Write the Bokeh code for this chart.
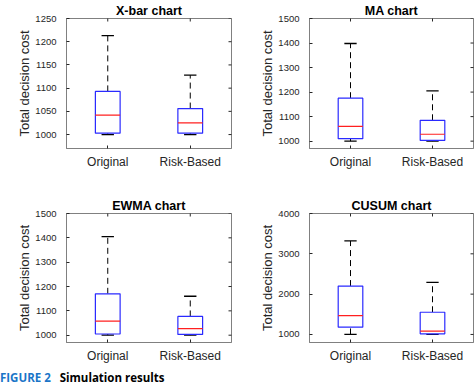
import math
from bokeh.plotting import figure
from bokeh.layouts import gridplot, column
from bokeh.models import FixedTicker, Range1d, Div
from bokeh.embed import file_html
from bokeh.resources import INLINE

# ---- data ----
categories = ["Original", "Risk-Based"]

titles = ["X-bar chart", "MA chart", "EWMA chart", "CUSUM chart"]

xbar_low = [1000, 1000]
xbar_q1 = [1003, 1003]
xbar_med = [1042, 1025]
xbar_q3 = [1093, 1056]
xbar_high = [1213, 1128]

ma_low = [1000, 1000]
ma_q1 = [1010, 1003]
ma_med = [1060, 1028]
ma_q3 = [1175, 1085]
ma_high = [1398, 1205]

ewma_low = [1000, 1000]
ewma_q1 = [1005, 1003]
ewma_med = [1058, 1027]
ewma_q3 = [1170, 1077]
ewma_high = [1405, 1160]

cusum_low = [1000, 1000]
cusum_q1 = [1180, 1015]
cusum_med = [1465, 1080]
cusum_q3 = [2200, 1550]
cusum_high = [3320, 2290]

xbar_ticks = [1000, 1050, 1100, 1150, 1200, 1250]
ma_ticks = [1000, 1100, 1200, 1300, 1400, 1500]
ewma_ticks = [1000, 1100, 1200, 1300, 1400, 1500]
cusum_ticks = [1000, 2000, 3000, 4000]

xbar_ylim = [970, 1250]
ma_ylim = [970, 1500]
ewma_ylim = [970, 1500]
cusum_ylim = [800, 4000]

y_label = "Total decision cost"
caption_a = "FIGURE 2"
caption_b = "Simulation results"

FONT = "Liberation Sans"
GREY = "#808080"
TXT = "#262626"


def make_panel(title, low, q1, med, q3, high, ticks, ylim, width, height,
               b_left, b_right, b_top, b_bottom):
    p = figure(width=width, height=height, output_backend="svg",
               toolbar_location=None, x_range=Range1d(0.5, 2.5),
               y_range=Range1d(ylim[0], ylim[1]),
               min_border_left=b_left, min_border_right=b_right,
               min_border_top=b_top, min_border_bottom=b_bottom)
    p.title.text = title
    p.title.align = "center"
    p.title.text_font = FONT
    p.title.text_font_size = "12.5px"
    p.title.text_font_style = "bold"
    p.title.text_color = "black"
    p.title.standoff = 2
    p.title.offset = 0
    p.grid.visible = False
    p.outline_line_color = GREY
    p.outline_line_width = 1
    p.background_fill_color = "white"
    p.border_fill_color = "white"

    xs = list(range(1, len(categories) + 1))
    for ax in (p.xaxis[0], p.yaxis[0]):
        ax.axis_line_color = GREY
        ax.major_tick_line_color = TXT
        ax.major_tick_in = 3
        ax.major_tick_out = 0
        ax.minor_tick_line_color = None
        ax.major_label_text_font = FONT
        ax.major_label_text_color = TXT
    p.xaxis[0].ticker = FixedTicker(ticks=xs)
    p.xaxis[0].major_label_overrides = {x: c for x, c in zip(xs, categories)}
    p.xaxis[0].major_label_text_font_size = "12px"
    p.xaxis[0].major_label_standoff = 6
    p.yaxis[0].ticker = FixedTicker(ticks=ticks)
    p.yaxis[0].major_label_text_font_size = "9.5px"
    p.yaxis[0].major_label_standoff = 10
    p.yaxis[0].axis_label = y_label
    p.yaxis[0].axis_label_text_font = FONT
    p.yaxis[0].axis_label_text_font_size = "13px"
    p.yaxis[0].axis_label_text_font_style = "normal"
    p.yaxis[0].axis_label_text_color = TXT
    p.yaxis[0].axis_label_standoff = 0

    # mirrored tick marks on the right and top edges (clipped to the frame)
    p.scatter(x=[2.5] * len(ticks), y=ticks, marker="dash", size=6,
              line_color=TXT, line_width=1)
    p.scatter(x=xs, y=[ylim[1]] * len(xs), marker="dash", size=6,
              angle=math.pi / 2, line_color=TXT, line_width=1)

    bw = 0.3
    cw = 0.15
    # whiskers (dashed)
    p.segment(x0=xs, y0=q3, x1=xs, y1=high, line_color="black",
              line_width=1, line_dash="6 4")
    p.segment(x0=xs, y0=low, x1=xs, y1=q1, line_color="black",
              line_width=1, line_dash="6 4")
    # caps
    p.segment(x0=[x - cw / 2 for x in xs], y0=high,
              x1=[x + cw / 2 for x in xs], y1=high,
              line_color="black", line_width=1.3)
    p.segment(x0=[x - cw / 2 for x in xs], y0=low,
              x1=[x + cw / 2 for x in xs], y1=low,
              line_color="black", line_width=1.3)
    # boxes
    p.quad(left=[x - bw / 2 for x in xs], right=[x + bw / 2 for x in xs],
           bottom=q1, top=q3, fill_color="white", line_color="#2a2aff",
           line_width=1.2)
    # medians
    p.segment(x0=[x - bw / 2 for x in xs], y0=med,
              x1=[x + bw / 2 for x in xs], y1=med,
              line_color="#ff2020", line_width=1.2)
    return p


p1 = make_panel(titles[0], xbar_low, xbar_q1, xbar_med, xbar_q3, xbar_high,
                xbar_ticks, xbar_ylim, 237, 189, 66, 6, 16, 41)
p2 = make_panel(titles[1], ma_low, ma_q1, ma_med, ma_q3, ma_high,
                ma_ticks, ma_ylim, 237, 189, 72, 1, 16, 41)
p3 = make_panel(titles[2], ewma_low, ewma_q1, ewma_med, ewma_q3, ewma_high,
                ewma_ticks, ewma_ylim, 237, 182, 66, 6, 24, 29)
p4 = make_panel(titles[3], cusum_low, cusum_q1, cusum_med, cusum_q3,
                cusum_high, cusum_ticks, cusum_ylim, 237, 182, 67, 1, 24, 29)

grid = gridplot([[p1, p2], [p3, p4]], toolbar_location=None)

caption = Div(
    text=('<span style="color:#1a75c8">' + caption_a + '</span>'
          '&nbsp;&nbsp;&nbsp;<span style="color:#000">' + caption_b + '</span>'),
    width=474, height=14,
    styles={"font-family": "Open Sans", "font-size": "11.5px",
            "font-weight": "bold", "line-height": "14px",
            "margin": "0", "padding": "0", "white-space": "nowrap",
            "overflow": "hidden"})

layout = column(grid, caption, spacing=0)

open("out.html", "w").write(file_html(layout, INLINE))
